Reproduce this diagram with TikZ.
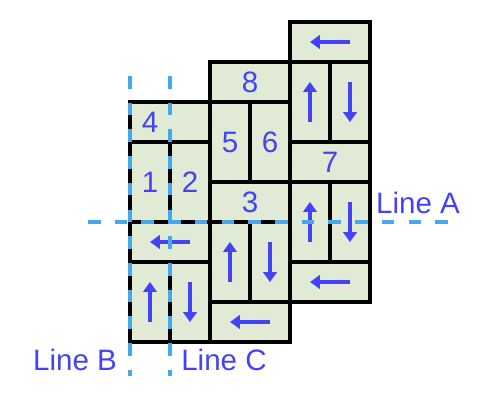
\documentclass[tikz,border=0pt]{standalone}
\usepackage{fontspec}
\setmainfont{Liberation Sans}
\usetikzlibrary{arrows.meta}
\definecolor{tilegreen}{HTML}{E0EAD4}
\definecolor{ink}{HTML}{4343F5}
\definecolor{cutblue}{HTML}{45A8EC}

\begin{document}
\begin{tikzpicture}[
    num/.style={text=ink,font=\fontsize{21}{25}\selectfont},
    arr/.style={draw=ink,line width=2.3pt,-{Triangle[length=7pt,width=9.5pt]}},
    cutline/.style={draw=cutblue,line width=2.2pt,dash pattern=on 9pt off 10pt}
  ]

      \useasboundingbox (-3.25,-1.45) rectangle (9.25,8.55);

      \begin{scope}[line width=2.3pt,
                    every node/.style={rectangle,draw=black,fill=tilegreen,inner sep=0pt,num}]
        \begin{scope}[every node/.append style={minimum width=2cm,minimum height=1cm}]
          \node (l1) at (5,7.5)  {};
          \node (8)  at (3,6.5)  {8};
          \node (4)  at (1,5.5)  [label={[num,xshift=-5mm]center:4}] {};
          \node (7)  at (5,4.5)  {7};
          \node (3)  at (3,3.5)  {3};
          \node (l2) at (1,2.5)  {};
          \node (l3) at (5,1.5)  {};
          \node (l4) at (3,0.5)  {};
        \end{scope}
        \begin{scope}[every node/.append style={minimum width=1cm,minimum height=2cm}]
          \node (u1) at (4.5,6)  {};
          \node (d1) at (5.5,6)  {};
          \node (5)  at (2.5,5)  {5};
          \node (6)  at (3.5,5)  {6};
          \node (1)  at (0.5,4)  {1};
          \node (2)  at (1.5,4)  {2};
          \node (u2) at (4.5,3)  {};
          \node (d2) at (5.5,3)  {};
          \node (u3) at (2.5,2)  {};
          \node (d3) at (3.5,2)  {};
          \node (u4) at (0.5,1)  {};
          \node (d4) at (1.5,1)  {};
        \end{scope}
      \end{scope}

      % arrows inside the tiles
      \foreach \t in {l1,l2,l3,l4}
        \draw[arr] ([xshift=5mm]\t.center) -- ([xshift=-5mm]\t.center);
      \foreach \t in {u1,u2,u3,u4}
        \draw[arr] ([yshift=-5mm]\t.center) -- ([yshift=5mm]\t.center);
      \foreach \t in {d1,d2,d3,d4}
        \draw[arr] ([yshift=5mm]\t.center) -- ([yshift=-5mm]\t.center);

      % cut lines
      \coordinate (A0) at (-1.05,3);
      \coordinate (A1) at (8.05,3);
      \coordinate (B0) at (0,6.65);
      \coordinate (B1) at (0,-0.85);
      \coordinate (C0) at (1,6.65);
      \coordinate (C1) at (1,-0.85);
      \draw[cutline] (A0) -- (A1);
      \draw[cutline] (B0) -- (B1);
      \draw[cutline] (C0) -- (C1);

      \node[num] (la) at (7.2,3.47)    {Line A};
      \node[num] (lb) at (-1.375,-0.45) {Line B};
      \node[num] (lc) at (2.35,-0.45)  {Line C};

    \end{tikzpicture}
\end{document}
